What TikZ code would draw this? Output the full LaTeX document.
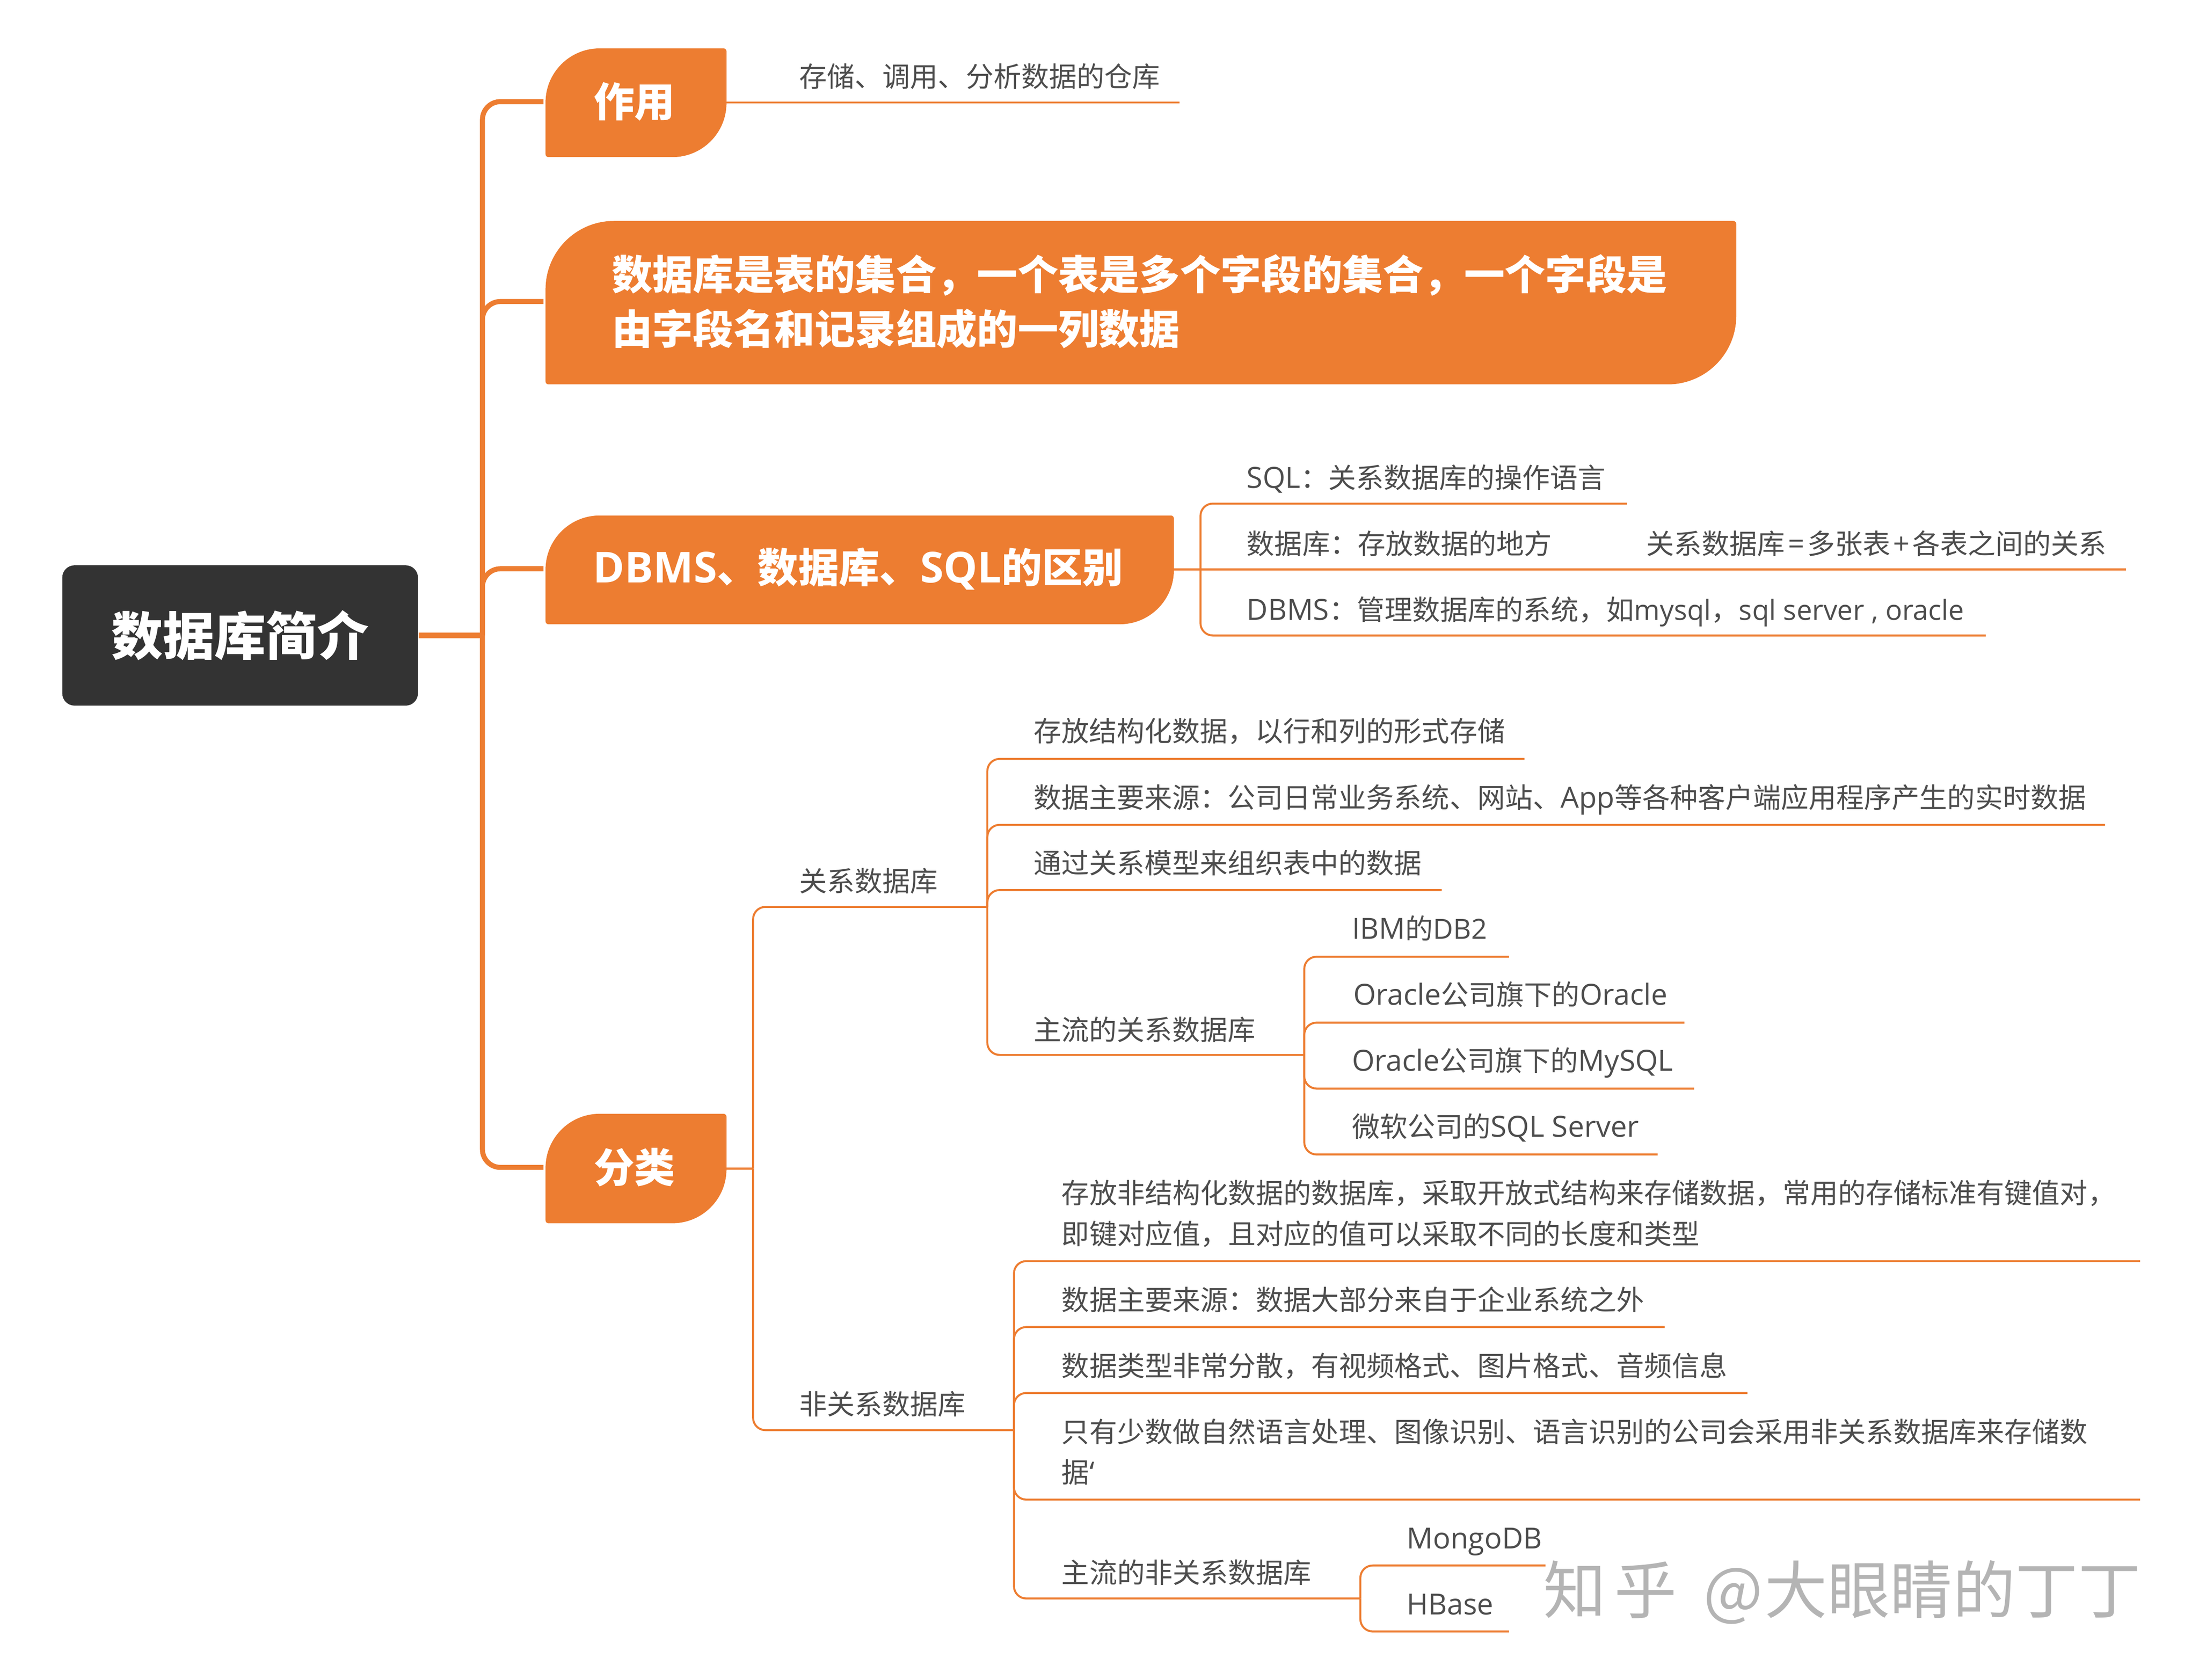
\documentclass[tikz,border=0pt]{standalone}
\usepackage{fontspec}
\setmainfont{Noto Sans CJK SC}
\newfontfamily\en[Scale=1.05]{Open Sans}
\newfontfamily\enp{Open Sans}
\definecolor{accent}{HTML}{ED7D31}
\definecolor{rootfill}{HTML}{333333}
\definecolor{ink}{HTML}{4D4D4D}
\definecolor{mark}{HTML}{B4B4B4}
\tikzset{
  lbl/.style={inner sep=0pt,anchor=base west,text=ink,font=\fontsize{7.7}{11.3}\selectfont,align=left},
  big/.style={inner sep=0pt,text=white,font=\fontsize{11.27}{15.2}\selectfont\bfseries,align=left},
  trunk/.style={draw=accent,line width=1.4pt,rounded corners=5pt},
  wire/.style={draw=accent,line width=0.55pt,rounded corners=3.4pt},
}
% name, x1, y1, x2, y2, big radius, text
\newcommand\bigbox[7]{%
  \fill[accent] (#2,{(#3+#5)/2}) [rounded corners=#6] -- (#2,#3) [rounded corners=0.8pt] -- (#4,#3) [rounded corners=#6] -- (#4,#5) [rounded corners=0.8pt] -- (#2,#5) -- cycle;
  \node[big,minimum width={(#4-#2)*0.3894pt},minimum height={(#5-#3)*0.3894pt}] (#1) at ({(#2+#4)/2-1},{(#3+#5)/2-0.8}) {#7};
}
% [text lift], name, text x, line y, line end x, text
\newcommand\leaf[6][0]{%
  \node[lbl] (#2) at (#3-0.5,#4-11-#1) {#6};
  \coordinate (#2e) at (#5,#4);
}
\begin{document}
\begin{tikzpicture}[x=0.3894pt,y=-0.3894pt]
\useasboundingbox (0,0) rectangle (1568,1197.5);
\fill[white] (0,0) rectangle (1568,1197.5);
% root
\node[fill=rootfill,rounded corners=3.4pt,minimum width=253.6*0.3894pt,minimum height=100*0.3894pt,inner sep=0pt,text=white,font=\fontsize{14.3}{16}\selectfont\bfseries] (root) at (171.2,453) {数据库简介};
% main topics
\bigbox{n1}{389}{34.5}{518}{112}{15pt}{作用}
\bigbox{n2}{389}{157.5}{1238}{274}{19pt}{数据库是表的集合，一个表是多个字段的集合，一个字段是\\由字段名和记录组成的一列数据}
\bigbox{n3}{389}{367.5}{837}{445}{15pt}{{\en DBMS}、数据库、{\en SQL}的区别}
\bigbox{n4}{389}{794}{518}{872}{15pt}{分类}
\coordinate (tj) at (344,453);
\draw[accent,line width=1.6pt] (root.east) -- (tj);
\draw[trunk] (tj) |- (n1.west);
\draw[trunk] (tj) |- (n2.west);
\draw[trunk] (tj) |- (n3.west);
\draw[trunk] (tj) |- (n4.west);
% n1 leaf
\leaf{a}{570}{73}{841}{存储、调用、分析数据的仓库}
\draw[wire] (n1.east |- ae) -- (ae);
% n3 leaves
\leaf{b1}{889}{359}{1160}{{\en SQL}：关系数据库的操作语言}
\leaf{b2}{889}{406}{1516}{数据库：存放数据的地方}
\node[lbl] (b2x) at (1173.5,395) {关系数据库\kern0.75pt{\en =}\kern0.75pt 多张表\kern0.75pt{\en +}\kern0.75pt 各表之间的关系};
\leaf{b3}{889}{453}{1416}{{\en DBMS}：管理数据库的系统，如{\enp mysql}，{\enp sql server , oracle}}
\coordinate (bj) at (856,406);
\draw[wire] (n3.east |- b2e) -- (b2e);
\draw[wire] (bj) |- (b1e);
\draw[wire] (bj) |- (b3e);
% n4 branches
\coordinate (cj) at (537,833);
\draw[wire] (n4.east |- cj) -- (cj);
\leaf{r}{570}{646.5}{704}{关系数据库}
\leaf{f}{570}{1019.5}{723}{非关系数据库}
\draw[wire] (cj) |- (re);
\draw[wire] (cj) |- (fe);
% relational
\leaf[1.5]{r1}{737}{541}{1087}{存放结构化数据，以行和列的形式存储}
\leaf[1]{r2}{737}{588}{1501}{数据主要来源：公司日常业务系统、网站、{\en App}等各种客户端应用程序产生的实时数据}
\leaf[1]{r3}{737}{634.5}{1028}{通过关系模型来组织表中的数据}
\leaf[-0.5]{r4}{737}{752}{930}{主流的关系数据库}
\draw[wire] (re) |- (r1e);
\draw[wire] (re) |- (r2e);
\draw[wire] (re) |- (r3e);
\draw[wire] (re) |- (r4e);
\leaf[1.5]{s1}{964}{682}{1076}{{\en IBM}的{\enp DB2}}
\leaf[1.5]{s2}{965}{729}{1201}{{\en Oracle}公司旗下的{\en Oracle}}
\leaf[1.5]{s3}{964}{776}{1208}{{\en Oracle}公司旗下的{\en MySQL}}
\leaf[1.5]{s4}{964}{823}{1182}{微软公司的{\en SQL Server}}
\draw[wire] (r4e) |- (s1e);
\draw[wire] (r4e) |- (s2e);
\draw[wire] (r4e) |- (s3e);
\draw[wire] (r4e) |- (s4e);
% non-relational
\leaf[1]{f1}{757}{899}{1526}{存放非结构化数据的数据库，采取开放式结构来存储数据，常用的存储标准有键值对，\\即键对应值，且对应的值可以采取不同的长度和类型}
\leaf[1]{f2}{757}{946}{1187}{数据主要来源：数据大部分来自于企业系统之外}
\leaf[1]{f3}{757}{993}{1246}{数据类型非常分散，有视频格式、图片格式、音频信息}
\leaf[1]{f4}{757}{1069}{1526}{只有少数做自然语言处理、图像识别、语言识别的公司会采用非关系数据库来存储数\\据{\en ‘}}
\leaf{f5}{757}{1139.5}{970}{主流的非关系数据库}
\draw[wire] (fe) |- (f1e);
\draw[wire] (fe) |- (f2e);
\draw[wire] (fe) |- (f3e);
\draw[wire] (fe) |- (f4e);
\draw[wire] (fe) |- (f5e);
\leaf[1]{g1}{1003}{1116}{1102}{{\en MongoDB}}
\leaf[1]{g2}{1003}{1163}{1076}{{\en HBase}}
\draw[wire] (f5e) |- (g1e);
\draw[wire] (f5e) |- (g2e);
% watermark
\node[inner sep=0pt,anchor=base west,text=mark,font=\fontsize{17.4}{20}\selectfont] (wm) at (1100,1150) {知\kern2.3pt 乎\kern3.5pt\ @\kern0.5pt 大眼睛的丁丁};
\end{tikzpicture}
\end{document}
